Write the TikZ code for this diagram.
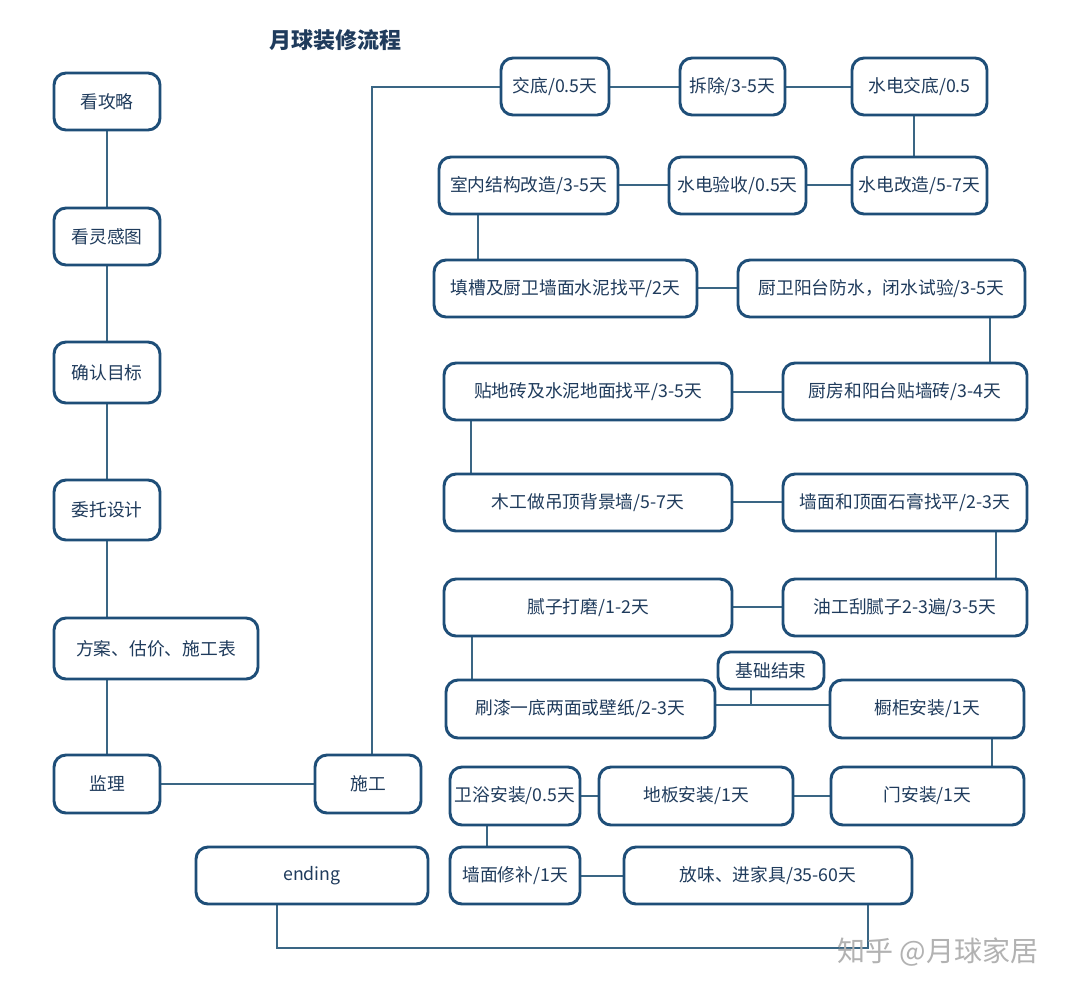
\documentclass[tikz,border=0pt]{standalone}
\usepackage{fontspec}
\setmainfont{Noto Sans CJK SC}
\definecolor{bd}{HTML}{1E4E78}
\definecolor{tx}{HTML}{1F3B5C}
\definecolor{ln}{HTML}{3A6684}
\begin{document}
\begin{tikzpicture}[x=0.75pt,y=-0.75pt,
  bx/.style={draw=bd,line width=2.2pt,rounded corners=9pt,fill=white},
  lab/.style={text=tx,font=\fontsize{13.3}{15}\selectfont},
  cn/.style={draw=ln,line width=1.1pt}]
\useasboundingbox (0,0) rectangle (1080,996);
\fill[white] (0,0) rectangle (1080,996);
\newcommand\bxx[6]{\draw[bx] (#2,#3) rectangle (#4,#5); \node[lab] (#1) at ({(#2+#4)/2},{(#3+#5)/2}) {#6};}
\node[text=tx,font=\fontsize{16.5}{18}\selectfont\bfseries] (title) at (335,40) {月球装修流程};
% connectors
\draw[cn] (107,130) -- (107,618);
\draw[cn] (107,679) -- (107,755);
\draw[cn] (160,784) -- (315,784);
\draw[cn] (372,755) -- (372,87) -- (501,87);
\draw[cn] (609,87) -- (680,87); \draw[cn] (785,87) -- (852,87);
\draw[cn] (914,115) -- (914,157);
\draw[cn] (852,185) -- (806,185); \draw[cn] (669,185) -- (618,185);
\draw[cn] (478,214) -- (478,260);
\draw[cn] (697,288) -- (738,288);
\draw[cn] (990,317) -- (990,363);
\draw[cn] (783,392) -- (732,392);
\draw[cn] (471,420) -- (471,474);
\draw[cn] (732,502) -- (783,502);
\draw[cn] (996,531) -- (996,579);
\draw[cn] (783,607) -- (732,607);
\draw[cn] (472,636) -- (472,680);
\draw[cn] (715,705) -- (830,705); \draw[cn] (751,689) -- (751,705);
\draw[cn] (992,738) -- (992,767);
\draw[cn] (831,796) -- (793,796); \draw[cn] (599,796) -- (580,796);
\draw[cn] (487,825) -- (487,847);
\draw[cn] (580,876) -- (624,876);
\draw[cn] (868,904) -- (868,948) -- (277,948) -- (277,904);
% boxes
\bxx{a1}{54}{73}{160}{130}{看攻略}
\bxx{a2}{54}{208}{160}{265}{看灵感图}
\bxx{a3}{54}{342}{160}{403}{确认目标}
\bxx{a4}{54}{480}{160}{540}{委托设计}
\bxx{a5}{54}{618}{258}{679}{方案、估价、施工表}
\bxx{a6}{54}{755}{160}{813}{监理}
\bxx{sg}{315}{755}{421}{813}{施工}
\bxx{end}{196}{847}{428}{904}{ending}
\bxx{b1}{501}{58}{609}{115}{交底/0.5天}
\bxx{b2}{680}{58}{785}{115}{拆除/3-5天}
\bxx{b3}{852}{58}{987}{115}{水电交底/0.5}
\bxx{c1}{439}{157}{618}{214}{室内结构改造/3-5天}
\bxx{c2}{669}{157}{806}{214}{水电验收/0.5天}
\bxx{c3}{852}{157}{987}{214}{水电改造/5-7天}
\bxx{d1}{434}{260}{697}{317}{填槽及厨卫墙面水泥找平/2天}
\bxx{d2}{738}{260}{1025}{317}{厨卫阳台防水，闭水试验/3-5天}
\bxx{e1}{444}{363}{732}{420}{贴地砖及水泥地面找平/3-5天}
\bxx{e2}{783}{363}{1027}{420}{厨房和阳台贴墙砖/3-4天}
\bxx{f1}{444}{474}{732}{531}{木工做吊顶背景墙/5-7天}
\bxx{f2}{783}{474}{1027}{531}{墙面和顶面石膏找平/2-3天}
\bxx{g1}{444}{579}{732}{636}{腻子打磨/1-2天}
\bxx{g2}{783}{579}{1027}{636}{油工刮腻子2-3遍/3-5天}
\bxx{jc}{718}{652}{824}{689}{基础结束}
\bxx{h1}{446}{680}{715}{738}{刷漆一底两面或壁纸/2-3天}
\bxx{h2}{830}{680}{1024}{738}{橱柜安装/1天}
\bxx{i1}{450}{767}{580}{825}{卫浴安装/0.5天}
\bxx{i2}{599}{767}{793}{825}{地板安装/1天}
\bxx{i3}{831}{767}{1024}{825}{门安装/1天}
\bxx{j1}{450}{847}{580}{904}{墙面修补/1天}
\bxx{j2}{624}{847}{912}{904}{放味、进家具/35-60天}
\node[text=black!30,font=\fontsize{21}{23}\selectfont] (wm) at (938,952) {知乎 @月球家居};
\end{tikzpicture}
\end{document}
